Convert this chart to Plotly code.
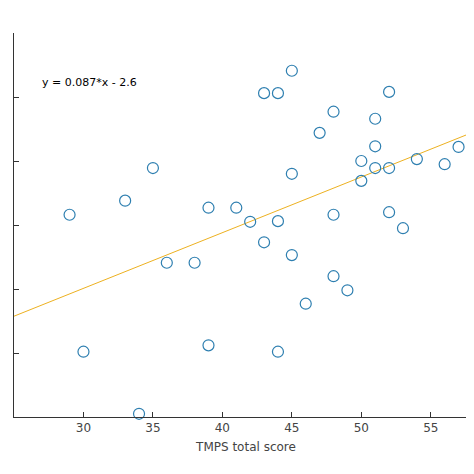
import numpy as np
import plotly.graph_objects as go

# TMPS total score vs outcome
tmps = [29, 30, 33, 34, 35, 36, 38, 39, 39, 41, 42, 43, 43, 44, 44, 44, 45, 45, 45,
        46, 47, 48, 48, 48, 49, 50, 50, 51, 51, 51, 52, 52, 52, 53, 54, 56, 57, 58]
score = [1.16, -0.98, 1.38, -1.95, 1.89, 0.41, 0.41, -0.88, 1.27, 1.27, 1.05, 3.06, 0.73,
         1.06, 3.06, -0.98, 3.41, 1.80, 0.53, -0.23, 2.44, 2.77, 1.16, 0.20, -0.02, 2.0,
         1.69, 2.66, 2.23, 1.89, 3.08, 1.89, 1.20, 0.95, 2.03, 1.95, 2.22, 3.83]
slope, intercept = 0.087, -2.6
x_range = [25, 58.4]

fit_x = np.array(x_range)
fit_y = slope * fit_x + intercept

fig = go.Figure()
fig.add_trace(go.Scatter(x=fit_x, y=fit_y, mode="lines",
                         line=dict(color="#EDB120", width=1), hoverinfo="skip"))
fig.add_trace(go.Scatter(x=tmps, y=score, mode="markers", cliponaxis=False,
                         marker=dict(symbol="circle-open", size=11, color="#2E7FB0",
                                     line=dict(width=1.2))))

fig.add_annotation(x=26.9, y=3.22, text="y = 0.087*x - 2.6", showarrow=False,
                   xanchor="left", font=dict(size=11, color="black"))

fig.update_layout(
    width=474, height=474, showlegend=False,
    paper_bgcolor="white", plot_bgcolor="white",
    margin=dict(l=6, r=4, t=25, b=65),
    font=dict(family="DejaVu Sans", color="#444"),
)
fig.update_xaxes(range=x_range, tickvals=[25, 30, 35, 40, 45, 50, 55], showgrid=False,
                 zeroline=False, showline=True, linecolor="#333", linewidth=1,
                 ticks="inside", ticklen=5, tickcolor="#333", tickfont=dict(size=12),
                 automargin=False,
                 title=dict(text="TMPS total score", font=dict(size=12), standoff=8))
fig.update_yaxes(range=[-2, 4], dtick=1, showgrid=False, zeroline=False, showline=True,
                 linecolor="#333", linewidth=1, ticks="inside", ticklen=5,
                 tickcolor="#333", showticklabels=False, automargin=False)

fig.write_html("out.html")
